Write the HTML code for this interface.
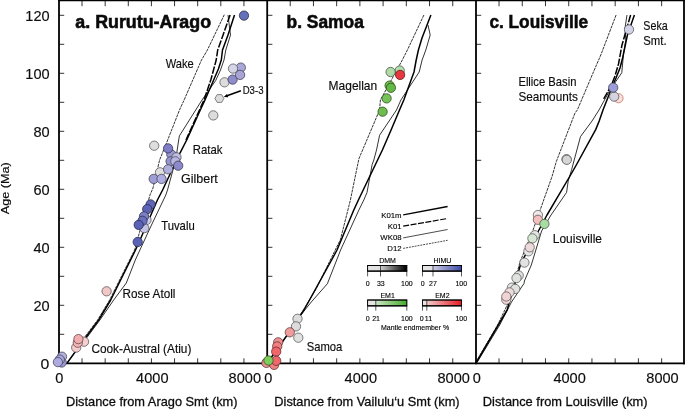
<!DOCTYPE html><html><head><meta charset="utf-8"><title>Hotspot age-distance</title>
<style>html,body{margin:0;padding:0;background:#fff}svg{display:block}text{font-family:"Liberation Sans",sans-serif;fill:#0d0d0d}.m{stroke:#0d0d0d;stroke-width:0.16px}.m2{stroke:#0d0d0d;stroke-width:0.3px}.b{font-weight:bold;fill:#0a0a0a;stroke:#0a0a0a;stroke-width:0.55px}.lg{fill:#000;stroke:#000;stroke-width:0.12px}</style></head><body>
<svg width="685" height="409" viewBox="0 0 685 409">
<rect width="685" height="409" fill="#fff"/>
<defs><linearGradient id="gD" x1="0" x2="1" y1="0" y2="0"><stop offset="0" stop-color="#e4e4e4"/><stop offset="0.33" stop-color="#dedede"/><stop offset="0.33" stop-color="#cfcfcf"/><stop offset="0.95" stop-color="#0a0a0a"/><stop offset="1" stop-color="#000"/></linearGradient><linearGradient id="gH" x1="0" x2="1" y1="0" y2="0"><stop offset="0" stop-color="#e6e6e6"/><stop offset="0.27" stop-color="#e0e0e6"/><stop offset="0.27" stop-color="#cdcde2"/><stop offset="1" stop-color="#3b48a4"/></linearGradient><linearGradient id="g1" x1="0" x2="1" y1="0" y2="0"><stop offset="0" stop-color="#e6e6e6"/><stop offset="0.21" stop-color="#e0e4de"/><stop offset="0.21" stop-color="#cbe6c4"/><stop offset="1" stop-color="#46ac2c"/></linearGradient><linearGradient id="g2" x1="0" x2="1" y1="0" y2="0"><stop offset="0" stop-color="#e6e6e6"/><stop offset="0.11" stop-color="#eae0e0"/><stop offset="0.11" stop-color="#f2cccc"/><stop offset="1" stop-color="#e61c26"/></linearGradient></defs>
<line x1="58.1" y1="0.4" x2="685.0" y2="0.4" stroke="#000" stroke-width="1.7"/>
<line x1="58.1" y1="363.3" x2="685.0" y2="363.3" stroke="#000" stroke-width="1.7"/>
<line x1="59.0" y1="0" x2="59.0" y2="364.15000000000003" stroke="#000" stroke-width="1.8"/>
<line x1="267.2" y1="0" x2="267.2" y2="364.15000000000003" stroke="#000" stroke-width="1.8"/>
<line x1="476.0" y1="0" x2="476.0" y2="364.15000000000003" stroke="#000" stroke-width="1.8"/>
<line x1="684.0" y1="0" x2="684.0" y2="364.15000000000003" stroke="#000" stroke-width="1.8"/>
<path d="M82.03,0.4v5.8M82.03,363.3v-5 M105.16,0.4v5.8M105.16,363.3v-5 M128.29,0.4v5.8M128.29,363.3v-5 M151.42,0.4v5.8M151.42,363.3v-5 M174.55,0.4v5.8M174.55,363.3v-5 M197.68,0.4v5.8M197.68,363.3v-5 M220.81,0.4v5.8M220.81,363.3v-5 M243.94,0.4v5.8M243.94,363.3v-5 M59.0,334.30h5.2 M59.0,305.30h5.2 M59.0,276.30h5.2 M59.0,247.30h5.2 M59.0,218.30h5.2 M59.0,189.30h5.2 M59.0,160.30h5.2 M59.0,131.30h5.2 M59.0,102.30h5.2 M59.0,73.30h5.2 M59.0,44.30h5.2 M59.0,15.30h5.2 M290.22,0.4v5.8M290.22,363.3v-5 M313.44,0.4v5.8M313.44,363.3v-5 M336.66,0.4v5.8M336.66,363.3v-5 M359.88,0.4v5.8M359.88,363.3v-5 M383.10,0.4v5.8M383.10,363.3v-5 M406.32,0.4v5.8M406.32,363.3v-5 M429.54,0.4v5.8M429.54,363.3v-5 M452.76,0.4v5.8M452.76,363.3v-5 M267.2,334.30h5.2 M267.2,305.30h5.2 M267.2,276.30h5.2 M267.2,247.30h5.2 M267.2,218.30h5.2 M267.2,189.30h5.2 M267.2,160.30h5.2 M267.2,131.30h5.2 M267.2,102.30h5.2 M267.2,73.30h5.2 M267.2,44.30h5.2 M267.2,15.30h5.2 M499.03,0.4v5.8M499.03,363.3v-5 M522.26,0.4v5.8M522.26,363.3v-5 M545.49,0.4v5.8M545.49,363.3v-5 M568.72,0.4v5.8M568.72,363.3v-5 M591.95,0.4v5.8M591.95,363.3v-5 M615.18,0.4v5.8M615.18,363.3v-5 M638.41,0.4v5.8M638.41,363.3v-5 M661.64,0.4v5.8M661.64,363.3v-5 M476.0,334.30h5.2 M476.0,305.30h5.2 M476.0,276.30h5.2 M476.0,247.30h5.2 M476.0,218.30h5.2 M476.0,189.30h5.2 M476.0,160.30h5.2 M476.0,131.30h5.2 M476.0,102.30h5.2 M476.0,73.30h5.2 M476.0,44.30h5.2 M476.0,15.30h5.2" stroke="#000" stroke-width="0.8" fill="none"/>
<polyline points="224.3,14.7 207.4,50.0 201.5,60.0 184.1,100.0 179.5,110.0 167.7,140.0 159.6,160.0 153.0,188.0 150.0,195.0 139.6,232.0 134.6,250.0 109.6,300.0 97.6,320.0 84.6,337.2" fill="none" stroke="#000" stroke-width="0.8" stroke-linejoin="round" stroke-dasharray="3 0.8"/>
<polyline points="228.0,15.0 230.5,35.0 225.8,50.0 224.0,60.0 220.5,70.0 215.6,80.7 202.0,100.0 179.4,135.9 178.7,140.0 175.7,160.0 167.5,190.0 165.8,195.0 151.5,225.0 139.9,250.0 135.3,260.0 126.3,283.0 113.7,300.0 99.9,320.0 86.6,338.0" fill="none" stroke="#000" stroke-width="0.8" stroke-linejoin="round"/>
<polyline points="230.1,15.0 222.0,38.0 217.7,50.0 216.2,60.0 211.0,79.3 204.0,100.0 198.6,112.0 186.0,140.0" fill="none" stroke="#000" stroke-width="1.5" stroke-linejoin="round" stroke-dasharray="7.5 1.5"/>
<polyline points="234.5,15.0 228.0,35.0 222.5,50.0 221.3,60.0 218.4,69.0 205.0,100.0 200.3,110.0 186.7,140.0 180.1,152.8 162.6,190.0 157.4,200.0 140.0,240.0 135.5,250.0 110.7,300.0 98.7,320.0 85.5,337.7 67.1,363.0" fill="none" stroke="#000" stroke-width="1.5" stroke-linejoin="round"/>
<polyline points="423.9,15.0 407.4,50.0 402.3,60.0 380.4,100.0 379.6,110.0 362.6,150.0 358.9,158.8 350.4,200.0 347.9,210.0 340.4,239.6 315.7,289.6 303.3,310.0 290.0,331.0" fill="none" stroke="#000" stroke-width="0.8" stroke-linejoin="round" stroke-dasharray="3 0.8"/>
<polyline points="428.0,25.0 430.2,35.0 425.8,50.0 422.1,60.0 419.2,72.0 400.9,100.0 396.5,110.0 379.6,135.2 376.5,150.0 373.8,160.0 372.1,164.7 367.0,192.5 363.8,200.0 358.9,210.0 340.6,250.0 336.7,260.0 327.4,283.7 311.3,302.0 300.0,316.0" fill="none" stroke="#000" stroke-width="0.8" stroke-linejoin="round"/>
<polyline points="430.9,15.0 422.0,38.0 418.4,50.0 416.2,60.0 414.0,72.0 403.8,100.0 399.5,110.0 391.4,129.3 382.4,150.0 377.6,160.0 358.4,200.0 353.8,210.0 337.0,250.0 331.6,260.0 304.0,310.0 289.9,331.2 267.3,363.0" fill="none" stroke="#000" stroke-width="1.5" stroke-linejoin="round"/>
<polyline points="616.1,15.0 600.8,55.0 596.0,66.0 577.3,110.0 575.0,113.0 556.3,161.6 552.1,176.3 532.7,231.0 520.0,262.0 509.6,300.0 497.6,325.0 475.6,362.5" fill="none" stroke="#000" stroke-width="0.8" stroke-linejoin="round" stroke-dasharray="3 0.8"/>
<polyline points="627.0,15.0 625.0,28.0 625.8,40.0 623.4,55.0 621.8,72.7 609.7,90.5 599.0,110.0 592.0,121.0 580.5,136.6 571.6,169.7 568.2,181.0 566.6,192.4 554.5,210.0 551.0,215.0 541.6,231.0 531.3,265.0 524.4,281.0 524.0,283.5 511.5,302.0 499.7,325.0 477.0,362.5" fill="none" stroke="#000" stroke-width="0.8" stroke-linejoin="round"/>
<polyline points="630.6,15.0 622.0,45.0 618.5,64.0 615.0,76.0 611.0,86.0 603.0,100.0" fill="none" stroke="#000" stroke-width="1.5" stroke-linejoin="round" stroke-dasharray="7.5 1.5"/>
<polyline points="634.4,15.0 627.4,35.0 622.6,58.0 620.0,68.0 616.0,78.0 612.5,86.0 603.0,110.0 599.2,121.0 595.8,129.4 576.3,165.0 570.0,176.0 547.0,215.0 538.4,231.0 521.0,263.0 507.1,310.0 476.0,363.0" fill="none" stroke="#000" stroke-width="1.5" stroke-linejoin="round"/>
<circle cx="213.3" cy="115.4" r="4.65" fill="#dcdcdc" stroke="#535353" stroke-width="0.75"/>
<circle cx="224.5" cy="82.3" r="4.65" fill="#dcdcdc" stroke="#535353" stroke-width="0.75"/>
<circle cx="240.8" cy="67.6" r="4.65" fill="#aaa8d8" stroke="#403f52" stroke-width="0.75"/>
<circle cx="233.0" cy="68.6" r="4.65" fill="#d5d5e8" stroke="#505058" stroke-width="0.75"/>
<circle cx="232.6" cy="79.6" r="4.65" fill="#8f8ccc" stroke="#36354d" stroke-width="0.75"/>
<circle cx="240.1" cy="74.9" r="4.65" fill="#a8a5d6" stroke="#3f3e51" stroke-width="0.75"/>
<circle cx="244.0" cy="15.6" r="4.65" fill="#6670b8" stroke="#262a45" stroke-width="0.75"/>
<circle cx="154.2" cy="145.7" r="4.65" fill="#dedede" stroke="#545454" stroke-width="0.75"/>
<circle cx="171.3" cy="154.4" r="4.65" fill="#9a98d0" stroke="#3a394f" stroke-width="0.75"/>
<circle cx="168.1" cy="148.4" r="4.65" fill="#7f7dc6" stroke="#302f4b" stroke-width="0.75"/>
<circle cx="170.6" cy="161.3" r="4.65" fill="#9795d0" stroke="#39384f" stroke-width="0.75"/>
<circle cx="176.5" cy="157.3" r="4.65" fill="#c0bfe2" stroke="#484855" stroke-width="0.75"/>
<circle cx="175.3" cy="161.3" r="4.65" fill="#b8b6de" stroke="#454554" stroke-width="0.75"/>
<circle cx="178.2" cy="165.7" r="4.65" fill="#8b89ca" stroke="#34344c" stroke-width="0.75"/>
<circle cx="160.0" cy="172.3" r="4.65" fill="#dedede" stroke="#545454" stroke-width="0.75"/>
<circle cx="168.1" cy="169.3" r="4.65" fill="#b0aedc" stroke="#424253" stroke-width="0.75"/>
<circle cx="153.7" cy="178.9" r="4.65" fill="#9f9dd4" stroke="#3c3b50" stroke-width="0.75"/>
<circle cx="161.5" cy="178.9" r="4.65" fill="#aeace0" stroke="#424155" stroke-width="0.75"/>
<circle cx="150.6" cy="204.4" r="4.65" fill="#5f66b8" stroke="#242645" stroke-width="0.75"/>
<circle cx="147.2" cy="209.1" r="4.65" fill="#5c63b6" stroke="#222545" stroke-width="0.75"/>
<circle cx="146.5" cy="220.0" r="4.65" fill="#d0d0ea" stroke="#4f4f58" stroke-width="0.75"/>
<circle cx="144.0" cy="216.4" r="4.65" fill="#7d80c4" stroke="#2f304a" stroke-width="0.75"/>
<circle cx="144.3" cy="228.1" r="4.65" fill="#c4c4e4" stroke="#4a4a56" stroke-width="0.75"/>
<circle cx="142.5" cy="220.8" r="4.65" fill="#6a70bc" stroke="#282a47" stroke-width="0.75"/>
<circle cx="138.7" cy="224.9" r="4.65" fill="#5a62b8" stroke="#222545" stroke-width="0.75"/>
<circle cx="137.7" cy="242.0" r="4.65" fill="#5a62b8" stroke="#222545" stroke-width="0.75"/>
<circle cx="106.6" cy="291.3" r="4.65" fill="#f0c8c8" stroke="#5b4c4c" stroke-width="0.75"/>
<circle cx="76.2" cy="347.6" r="4.65" fill="#f4cccc" stroke="#5c4d4d" stroke-width="0.75"/>
<circle cx="84.0" cy="341.7" r="4.65" fill="#f4d0d0" stroke="#5c4f4f" stroke-width="0.75"/>
<circle cx="77.8" cy="342.7" r="4.65" fill="#f2b6b6" stroke="#5b4545" stroke-width="0.75"/>
<circle cx="78.4" cy="339.1" r="4.65" fill="#f2aeae" stroke="#5b4242" stroke-width="0.75"/>
<circle cx="62.0" cy="356.7" r="4.65" fill="#b4b2e2" stroke="#444355" stroke-width="0.75"/>
<circle cx="61.7" cy="362.5" r="4.65" fill="#9c9ad6" stroke="#3b3a51" stroke-width="0.75"/>
<circle cx="59.8" cy="359.6" r="4.65" fill="#a8a6dc" stroke="#3f3f53" stroke-width="0.75"/>
<circle cx="57.9" cy="362.1" r="4.65" fill="#acaade" stroke="#414054" stroke-width="0.75"/>
<polygon points="223.9,98.5 221.7,102.4 217.2,102.4 214.9,98.5 217.2,94.6 221.7,94.6" fill="#dcdcdc" stroke="#555" stroke-width="0.7"/>
<line x1="240.9" y1="90.8" x2="227" y2="95.8" stroke="#000" stroke-width="1.5"/>
<polygon points="223.7,97 227.0,93.9 228.3,97.3" fill="#000"/>
<circle cx="399.7" cy="70.5" r="4.65" fill="#b5dcae" stroke="#445342" stroke-width="0.75"/>
<circle cx="390.6" cy="72.0" r="4.65" fill="#b0daa8" stroke="#42523f" stroke-width="0.75"/>
<circle cx="400.1" cy="74.9" r="4.65" fill="#e8383f" stroke="#581517" stroke-width="0.75"/>
<circle cx="389.6" cy="85.6" r="4.65" fill="#6fbf4f" stroke="#2a481e" stroke-width="0.75"/>
<circle cx="390.9" cy="87.8" r="4.65" fill="#62b945" stroke="#25461a" stroke-width="0.75"/>
<circle cx="386.6" cy="98.4" r="4.65" fill="#74c258" stroke="#2c4921" stroke-width="0.75"/>
<circle cx="382.6" cy="111.7" r="4.65" fill="#6cbd4e" stroke="#29471d" stroke-width="0.75"/>
<circle cx="297.5" cy="318.8" r="4.65" fill="#dcdcdc" stroke="#535353" stroke-width="0.75"/>
<circle cx="296.0" cy="326.4" r="4.65" fill="#dcdcdc" stroke="#535353" stroke-width="0.75"/>
<circle cx="298.3" cy="337.7" r="4.65" fill="#e0e0e0" stroke="#555555" stroke-width="0.75"/>
<circle cx="289.8" cy="332.3" r="4.65" fill="#f09c9c" stroke="#5b3b3b" stroke-width="0.75"/>
<circle cx="278.2" cy="342.3" r="4.65" fill="#f09090" stroke="#5b3636" stroke-width="0.75"/>
<circle cx="277.2" cy="346.4" r="4.65" fill="#f08080" stroke="#5b3030" stroke-width="0.75"/>
<circle cx="276.2" cy="351.6" r="4.65" fill="#f0666a" stroke="#5b2628" stroke-width="0.75"/>
<circle cx="266.4" cy="362.9" r="4.65" fill="#e89090" stroke="#583636" stroke-width="0.75"/>
<circle cx="274.1" cy="364.9" r="4.65" fill="#f08080" stroke="#5b3030" stroke-width="0.75"/>
<circle cx="276.2" cy="360.8" r="4.65" fill="#f0686c" stroke="#5b2729" stroke-width="0.75"/>
<circle cx="268.5" cy="360.5" r="4.65" fill="#7ccc5c" stroke="#2f4d22" stroke-width="0.75"/>
<circle cx="629.0" cy="29.5" r="4.65" fill="#d2d2e8" stroke="#4f4f58" stroke-width="0.75"/>
<circle cx="618.5" cy="98.2" r="4.6" fill="#f8e0dc" stroke="#d06858" stroke-width="0.75"/>
<circle cx="614.2" cy="96.6" r="4.65" fill="#d4d4e0" stroke="#505055" stroke-width="0.75"/>
<circle cx="613.2" cy="87.6" r="4.65" fill="#9c9cd8" stroke="#3b3b52" stroke-width="0.75"/>
<circle cx="566.5" cy="159.2" r="4.65" fill="#dcdcdc" stroke="#535353" stroke-width="0.75"/>
<circle cx="566.8" cy="159.8" r="4.65" fill="#d6d6d6" stroke="#515151" stroke-width="0.75"/>
<circle cx="537.9" cy="215.0" r="4.65" fill="#eee8e8" stroke="#5a5858" stroke-width="0.75"/>
<circle cx="537.9" cy="219.8" r="4.65" fill="#f3bebe" stroke="#5c4848" stroke-width="0.75"/>
<circle cx="544.4" cy="223.9" r="4.65" fill="#a8dca2" stroke="#3f533d" stroke-width="0.75"/>
<circle cx="534.8" cy="235.2" r="4.65" fill="#e4e4e4" stroke="#565656" stroke-width="0.75"/>
<circle cx="532.4" cy="238.4" r="4.65" fill="#d8e6d4" stroke="#525750" stroke-width="0.75"/>
<circle cx="528.4" cy="251.3" r="4.65" fill="#e8e8e8" stroke="#585858" stroke-width="0.75"/>
<circle cx="529.7" cy="247.3" r="4.65" fill="#ecdada" stroke="#595252" stroke-width="0.75"/>
<circle cx="524.4" cy="262.6" r="4.65" fill="#e2e2e2" stroke="#555555" stroke-width="0.75"/>
<circle cx="518.7" cy="275.5" r="4.65" fill="#e0e0e0" stroke="#555555" stroke-width="0.75"/>
<circle cx="516.5" cy="278.1" r="4.65" fill="#dfe2df" stroke="#545554" stroke-width="0.75"/>
<circle cx="511.9" cy="287.6" r="4.65" fill="#e4e4e4" stroke="#565656" stroke-width="0.75"/>
<circle cx="515.2" cy="288.9" r="4.65" fill="#dfe2df" stroke="#545554" stroke-width="0.75"/>
<circle cx="509.5" cy="292.4" r="4.65" fill="#ecdcdc" stroke="#595353" stroke-width="0.75"/>
<circle cx="506.3" cy="299.7" r="4.65" fill="#f0d8d8" stroke="#5b5252" stroke-width="0.75"/>
<circle cx="506.3" cy="296.5" r="4.65" fill="#f0d4d4" stroke="#5b5050" stroke-width="0.75"/>
<text x="49.3" y="368.9" font-size="15.5" text-anchor="end" textLength="8.8" lengthAdjust="spacingAndGlyphs" class="m">0</text>
<text x="49.6" y="310.9" font-size="15.5" text-anchor="end" textLength="16.2" lengthAdjust="spacingAndGlyphs" class="m">20</text>
<text x="49.6" y="252.9" font-size="15.5" text-anchor="end" textLength="16.2" lengthAdjust="spacingAndGlyphs" class="m">40</text>
<text x="49.6" y="194.9" font-size="15.5" text-anchor="end" textLength="16.2" lengthAdjust="spacingAndGlyphs" class="m">60</text>
<text x="49.6" y="136.9" font-size="15.5" text-anchor="end" textLength="16.2" lengthAdjust="spacingAndGlyphs" class="m">80</text>
<text x="49.6" y="78.9" font-size="15.5" text-anchor="end" textLength="24.3" lengthAdjust="spacingAndGlyphs" class="m">100</text>
<text x="49.6" y="20.9" font-size="15.5" text-anchor="end" textLength="24.3" lengthAdjust="spacingAndGlyphs" class="m">120</text>
<text x="59.2" y="382.6" font-size="15.5" text-anchor="middle" textLength="8.1" lengthAdjust="spacingAndGlyphs" class="m">0</text>
<text x="152.3" y="382.6" font-size="15.5" text-anchor="middle" textLength="32.4" lengthAdjust="spacingAndGlyphs" class="m">4000</text>
<text x="244.8" y="382.6" font-size="15.5" text-anchor="middle" textLength="32.4" lengthAdjust="spacingAndGlyphs" class="m">8000</text>
<text x="268.3" y="382.6" font-size="15.5" text-anchor="middle" textLength="8.1" lengthAdjust="spacingAndGlyphs" class="m">0</text>
<text x="360.8" y="382.6" font-size="15.5" text-anchor="middle" textLength="32.4" lengthAdjust="spacingAndGlyphs" class="m">4000</text>
<text x="453.7" y="382.6" font-size="15.5" text-anchor="middle" textLength="32.4" lengthAdjust="spacingAndGlyphs" class="m">8000</text>
<text x="476.8" y="382.6" font-size="15.5" text-anchor="middle" textLength="8.1" lengthAdjust="spacingAndGlyphs" class="m">0</text>
<text x="569.6" y="382.6" font-size="15.5" text-anchor="middle" textLength="32.4" lengthAdjust="spacingAndGlyphs" class="m">4000</text>
<text x="662.5" y="382.6" font-size="15.5" text-anchor="middle" textLength="32.4" lengthAdjust="spacingAndGlyphs" class="m">8000</text>
<text x="66" y="405.9" font-size="13.6" textLength="171.5" lengthAdjust="spacingAndGlyphs" class="m2">Distance from Arago Smt (km)</text>
<text x="274.3" y="405.9" font-size="13.6" textLength="185.3" lengthAdjust="spacingAndGlyphs" class="m2">Distance from Vailulu‘u Smt (km)</text>
<text x="482.8" y="405.9" font-size="13.6" textLength="164.8" lengthAdjust="spacingAndGlyphs" class="m2">Distance from Louisville (km)</text>
<text transform="translate(9.4,214.3) rotate(-90)" font-size="10.9" class="m" textLength="52" lengthAdjust="spacingAndGlyphs">Age (Ma)</text>
<text x="75.3" y="27.9" font-size="17.5" textLength="135.8" lengthAdjust="spacingAndGlyphs" class="b">a. Rurutu-Arago</text>
<text x="286.6" y="27.9" font-size="17.5" textLength="77.2" lengthAdjust="spacingAndGlyphs" class="b">b. Samoa</text>
<text x="489.4" y="27.9" font-size="17.5" textLength="98.8" lengthAdjust="spacingAndGlyphs" class="b">c. Louisville</text>
<text x="193.7" y="67.6" font-size="12.1" text-anchor="end" textLength="28" lengthAdjust="spacingAndGlyphs" class="m">Wake</text>
<text x="192.8" y="153.7" font-size="12.1" textLength="29.6" lengthAdjust="spacingAndGlyphs" class="m">Ratak</text>
<text x="181" y="183.4" font-size="12.1" textLength="36.8" lengthAdjust="spacingAndGlyphs" class="m">Gilbert</text>
<text x="161.2" y="229.6" font-size="12.1" textLength="33.5" lengthAdjust="spacingAndGlyphs" class="m">Tuvalu</text>
<text x="122.6" y="297.9" font-size="12.1" textLength="52.8" lengthAdjust="spacingAndGlyphs" class="m">Rose Atoll</text>
<text x="91.4" y="352.6" font-size="12.1" textLength="100" lengthAdjust="spacingAndGlyphs" class="m">Cook-Austral (Atiu)</text>
<text x="242.7" y="93.7" font-size="10" textLength="20.8" lengthAdjust="spacingAndGlyphs" class="m">D3-3</text>
<text x="377.2" y="89.6" font-size="12.1" text-anchor="end" textLength="48.6" lengthAdjust="spacingAndGlyphs" class="m">Magellan</text>
<text x="306.7" y="350.6" font-size="12.1" textLength="35.6" lengthAdjust="spacingAndGlyphs" class="m">Samoa</text>
<text x="643.3" y="29.8" font-size="12.1" textLength="24.5" lengthAdjust="spacingAndGlyphs" class="m">Seka</text>
<text x="643.3" y="45.2" font-size="12.1" textLength="23.3" lengthAdjust="spacingAndGlyphs" class="m">Smt.</text>
<text x="518.4" y="85.7" font-size="12.1" textLength="58" lengthAdjust="spacingAndGlyphs" class="m">Ellice Basin</text>
<text x="518.4" y="101" font-size="12.1" textLength="59.5" lengthAdjust="spacingAndGlyphs" class="m">Seamounts</text>
<text x="552.8" y="242.5" font-size="12.1" textLength="49.2" lengthAdjust="spacingAndGlyphs" class="m">Louisville</text>
<polyline points="403.2,214.8 447.6,206.5" fill="none" stroke="#000" stroke-width="1.3" stroke-linejoin="round"/>
<polyline points="403.2,226.1 447.6,218.5" fill="none" stroke="#000" stroke-width="1.2" stroke-linejoin="round" stroke-dasharray="6 1.5"/>
<polyline points="403.2,237.9 447.6,229.5" fill="none" stroke="#000" stroke-width="0.7" stroke-linejoin="round"/>
<polyline points="403.2,248.4 447.6,240.3" fill="none" stroke="#000" stroke-width="0.7" stroke-linejoin="round" stroke-dasharray="2 0.9"/>
<text x="401.6" y="217.6" font-size="7.8" text-anchor="end" textLength="20.4" lengthAdjust="spacingAndGlyphs" class="lg">K01m</text>
<text x="401.6" y="229.3" font-size="7.8" text-anchor="end" class="lg">K01</text>
<text x="401.6" y="240.3" font-size="7.8" text-anchor="end" class="lg">WK08</text>
<text x="401.6" y="251.1" font-size="7.8" text-anchor="end" class="lg">D12</text>
<rect x="367.6" y="265.5" width="39.2" height="5.6" fill="url(#gD)" stroke="#000" stroke-width="0.8"/>
<path d="M367.20000000000005,265.5H407.2M367.20000000000005,271.1H407.2" stroke="#000" stroke-width="1.15" fill="none"/>
<path d="M367.6,265.5V276.4M380.5,265.5V276.4M406.8,265.5V276.4" stroke="#000" stroke-width="0.65" fill="none"/>
<text x="387.6" y="262.5" font-size="7.0" text-anchor="middle" class="lg">DMM</text>
<text x="367.7" y="286" font-size="7.0" text-anchor="middle" class="lg">0</text>
<text x="380.8" y="286" font-size="7.0" text-anchor="middle" class="lg">33</text>
<text x="406.9" y="286" font-size="7.0" text-anchor="middle" class="lg">100</text>
<rect x="422.5" y="265.5" width="39.0" height="5.6" fill="url(#gH)" stroke="#000" stroke-width="0.8"/>
<path d="M422.1,265.5H461.9M422.1,271.1H461.9" stroke="#000" stroke-width="1.15" fill="none"/>
<path d="M422.5,265.5V276.4M433.0,265.5V276.4M461.5,265.5V276.4" stroke="#000" stroke-width="0.65" fill="none"/>
<text x="442.4" y="262.5" font-size="7.0" text-anchor="middle" class="lg">HIMU</text>
<text x="422.6" y="286" font-size="7.0" text-anchor="middle" class="lg">0</text>
<text x="432.9" y="286" font-size="7.0" text-anchor="middle" class="lg">27</text>
<text x="461.3" y="286" font-size="7.0" text-anchor="middle" class="lg">100</text>
<rect x="367.6" y="300.0" width="39.2" height="5.8" fill="url(#g1)" stroke="#000" stroke-width="0.8"/>
<path d="M367.20000000000005,300.0H407.2M367.20000000000005,305.8H407.2" stroke="#000" stroke-width="1.15" fill="none"/>
<path d="M367.6,300.0V310.6M375.8,300.0V310.6M406.8,300.0V310.6" stroke="#000" stroke-width="0.65" fill="none"/>
<text x="387.6" y="297.9" font-size="7.0" text-anchor="middle" class="lg">EM1</text>
<text x="367.7" y="320.6" font-size="7.0" text-anchor="middle" class="lg">0</text>
<text x="376.1" y="320.6" font-size="7.0" text-anchor="middle" class="lg">21</text>
<text x="406.9" y="320.6" font-size="7.0" text-anchor="middle" class="lg">100</text>
<rect x="422.5" y="300.0" width="39.0" height="5.8" fill="url(#g2)" stroke="#000" stroke-width="0.8"/>
<path d="M422.1,300.0H461.9M422.1,305.8H461.9" stroke="#000" stroke-width="1.15" fill="none"/>
<path d="M422.5,300.0V310.6M426.8,300.0V310.6M461.5,300.0V310.6" stroke="#000" stroke-width="0.65" fill="none"/>
<text x="442.4" y="297.9" font-size="7.0" text-anchor="middle" class="lg">EM2</text>
<text x="421.8" y="320.6" font-size="7.0" text-anchor="middle" class="lg">0</text>
<text x="428.5" y="320.6" font-size="7.0" text-anchor="middle" class="lg">11</text>
<text x="461.3" y="320.6" font-size="7.0" text-anchor="middle" class="lg">100</text>
<text x="415.1" y="329.6" font-size="7.0" text-anchor="middle" textLength="68.3" lengthAdjust="spacingAndGlyphs" class="lg">Mantle endmember %</text>
</svg></body></html>
